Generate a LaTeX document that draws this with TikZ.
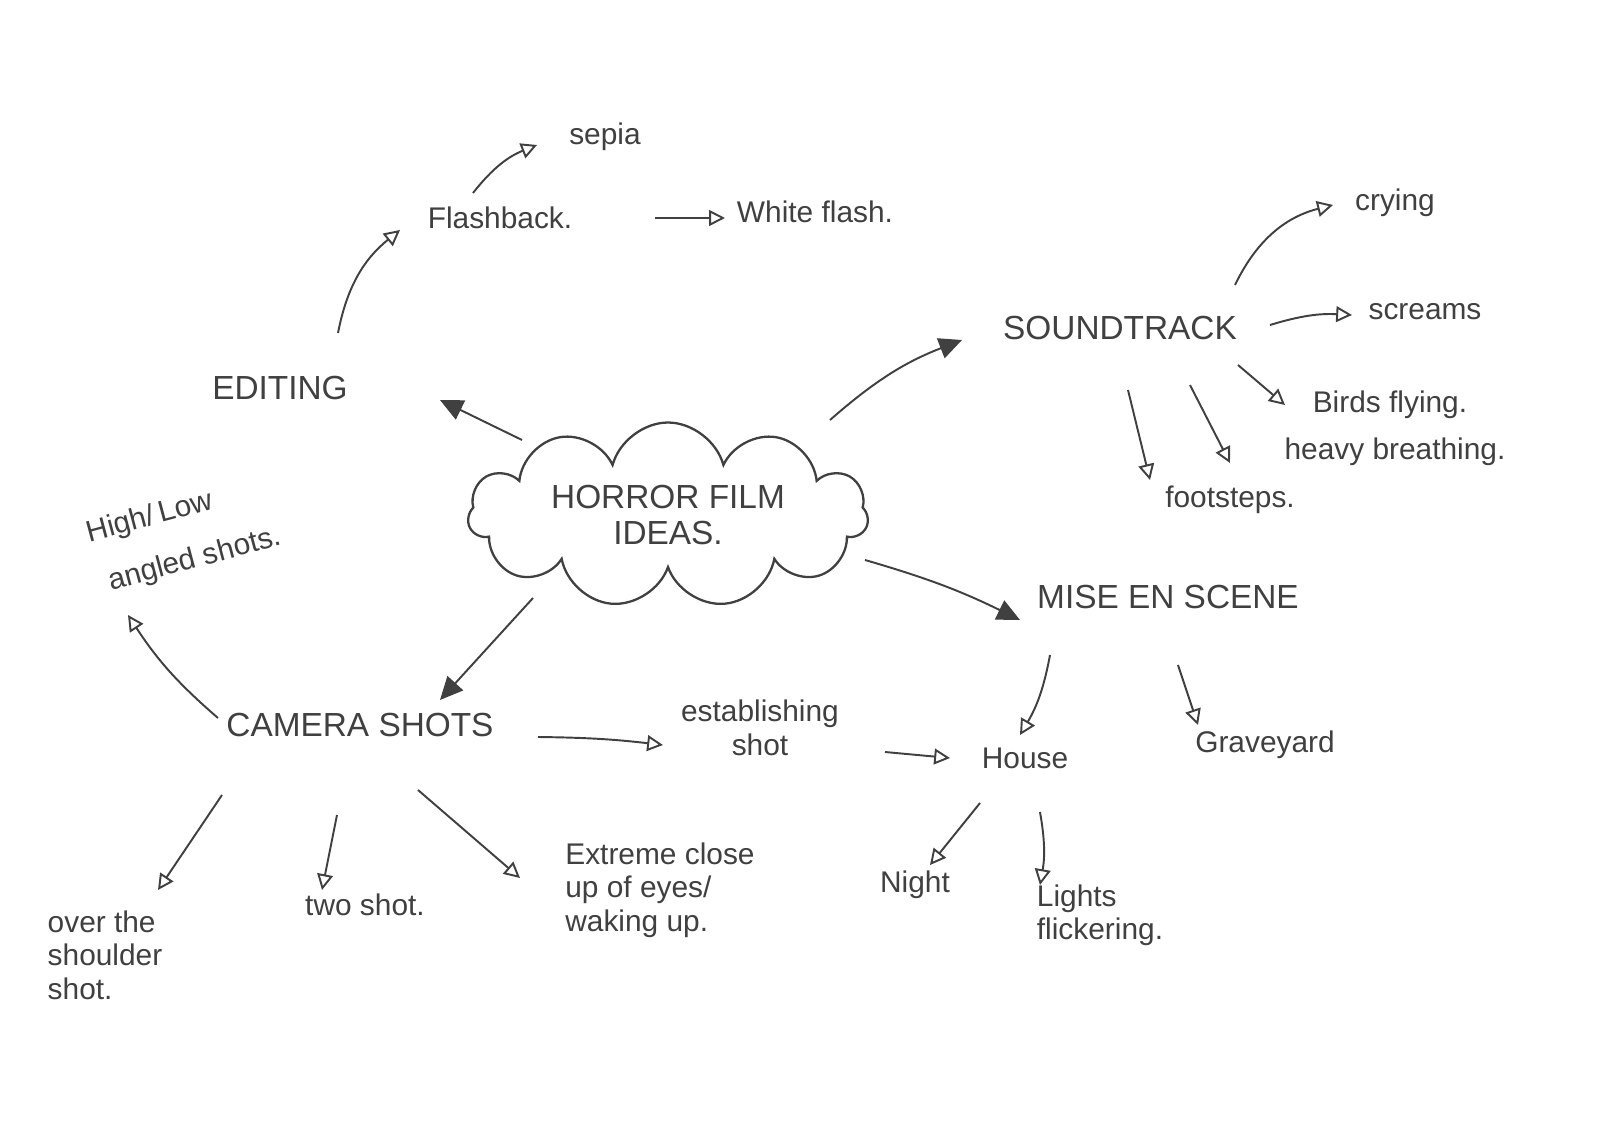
\documentclass[tikz,border=0pt]{standalone}
\usepackage{fontspec}
\setmainfont{Liberation Sans}
\usetikzlibrary{shapes.symbols,arrows.meta}
\begin{document}
\begin{tikzpicture}[x=0.02cm,y=-0.02cm,
  lbl/.style={font=\fontsize{17}{19}\selectfont,color=black!75,align=left,inner sep=2pt},
  big/.style={font=\fontsize{19}{21}\selectfont,color=black!75,inner sep=2pt},
  oa/.style={draw=black!75,line width=1.1pt,-{Triangle[open,length=9pt,width=9pt]}},
  fa/.style={draw=black!75,line width=1.1pt,-{Triangle[length=13pt,width=12pt]}}]
\useasboundingbox (0,0) rectangle (1600,1132);
\fill[white] (0,0) rectangle (1600,1132);
\node[cloud,draw=black!75,line width=1.3pt,cloud puffs=11,aspect=2.2,minimum width=8cm,minimum height=3.7cm] (c) at (668,515) {};
\node[big,align=center] (ct) at (668,515) {HORROR FILM\\ IDEAS.};
\node[big] (ed) at (280,388) {EDITING};
\node[lbl] (fb) at (500,218) {Flashback.};
\node[lbl] (sp) at (605,137) {sepia};
\node[lbl] (wf) at (815,212) {White flash.};
\node[big] (st) at (1120,328) {SOUNDTRACK};
\node[lbl] (cr) at (1395,203) {crying};
\node[lbl] (sc) at (1425,312) {screams};
\node[lbl] (bf) at (1390,405) {Birds flying.};
\node[lbl] (hb) at (1395,452) {heavy breathing.};
\node[lbl] (fs) at (1230,500) {footsteps.};
\node[big] (ms) at (1168,597) {MISE EN SCENE};
\node[lbl] (ho) at (1025,758) {House};
\node[lbl] (gy) at (1265,745) {Graveyard};
\node[lbl] (ni) at (915,885) {Night};
\node[lbl] (lf) at (1100,915) {Lights\\flickering.};
\node[big] (cs) at (360,725) {CAMERA SHOTS};
\node[lbl,align=center] (es) at (760,728) {establishing\\shot};
\node[lbl,rotate=15] (hl1) at (150,518) {High/\,Low};
\node[lbl,rotate=15] (hl2) at (195,560) {angled shots.};
\node[lbl] (os) at (105,955) {over the\\shoulder\\shot.};
\node[lbl] (ts) at (365,905) {two shot.};
\node[lbl] (ex) at (660,890) {Extreme close\\up of eyes/\\waking up.};
% cloud arrows
\draw[fa] (522,440) -- (440,400);
\draw[fa] (830,420) to[bend left=10] (962,340);
\draw[fa] (865,560) to[bend left=5] (1020,620);
\draw[fa] (533,598) -- (440,700);
% editing
\draw[oa] (338,333) to[bend left=20] (400,230);
\draw[oa] (473,193) to[bend left=15] (537,145);
\draw[oa] (655,218) -- (725,218);
% soundtrack
\draw[oa] (1235,285) to[bend left=25] (1333,205);
\draw[oa] (1270,325) to[bend left=10] (1352,315);
\draw[oa] (1238,365) -- (1285,405);
\draw[oa] (1190,385) -- (1230,463);
\draw[oa] (1128,390) -- (1150,480);
% mise en scene
\draw[oa] (1050,655) to[bend left=10] (1020,735);
\draw[oa] (1178,665) -- (1198,725);
\draw[oa] (980,803) -- (930,865);
\draw[oa] (1040,812) to[bend left=10] (1040,885);
% camera shots
\draw[oa] (538,737) to[bend left=3] (663,745);
\draw[oa] (885,752) -- (950,758);
\draw[oa] (218,718) to[bend left=8] (128,615);
\draw[oa] (222,795) -- (158,890);
\draw[oa] (337,815) -- (322,890);
\draw[oa] (418,790) -- (520,878);
\end{tikzpicture}
\end{document}
